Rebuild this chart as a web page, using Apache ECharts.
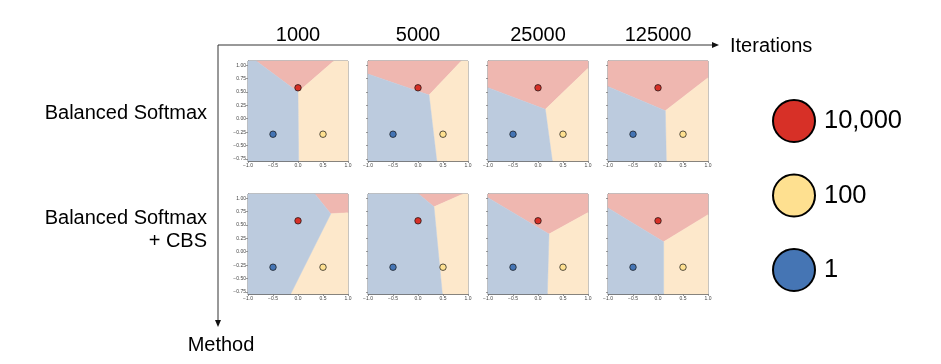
<!DOCTYPE html>
<html>
<head>
<meta charset="utf-8">
<script src="https://cdn.jsdelivr.net/npm/echarts@6/dist/echarts.min.js"></script>
<style>
html,body{margin:0;padding:0;background:#fff;}
#chart{width:941px;height:364px;}
</style>
</head>
<body>
<div id="chart"></div>
<script>
// ---- data ----
const XMIN = -1, XMAX = 1, YMIN = -0.7887, YMAX = 1.0774;
const iterations = ['1000', '5000', '25000', '125000'];
const methods = ['Balanced Softmax', 'Balanced Softmax\n+ CBS'];
const classNames = ['10,000', '100', '1'];
const classPoints = [[0, 0.5774], [0.5, -0.2887], [-0.5, -0.2887]]; // red, yellow, blue
const xTicks = [-1, -0.5, 0, 0.5, 1];
const yTicks = [-0.75, -0.5, -0.25, 0, 0.25, 0.5, 0.75, 1.0];
// decision-boundary geometry per panel (row 1: cols 1-4, row 2: cols 1-4)
const junctions = [[0.0, 0.497], [0.221, 0.443], [0.147, 0.175], [0.147, 0.150],
                   [0.656, 0.709], [0.32, 0.839], [0.22, 0.331], [0.113, 0.186]];
const redBlueEnds = [[-0.834, YMAX], [XMIN, 0.835], [XMIN, 0.580], [XMIN, 0.601],
                     [0.338, YMAX], [0.013, YMAX], [XMIN, 1.008], [XMIN, 0.818]];
const redYellowEnds = [[0.715, YMAX], [0.866, YMAX], [XMAX, 0.941], [XMAX, 0.764],
                       [XMAX, 0.728], [0.9, YMAX], [XMAX, 0.73], [XMAX, 0.692]];
const blueYellowEnds = [[0.013, YMIN], [0.376, YMIN], [0.287, YMIN], [0.167, YMIN],
                        [-0.146, YMIN], [0.487, YMIN], [0.187, YMIN], [0.113, YMIN]];

// ---- styles ----
const FONT = "'Liberation Sans', Arial, sans-serif";
const pointColors = ['#d73027', '#fee090', '#4575b4'];
const regionColors = ['#efb7b0', '#fde8cb', '#bccbde'];
const gridLefts = [248, 368, 488, 608];
const gridTops = [61, 194];
const GW = 100, GH = 100;

function perim(p) {
  const x = p[0], y = p[1], e = 1e-6;
  if (Math.abs(y - YMAX) < e) return (x - XMIN) / (XMAX - XMIN);
  if (Math.abs(x - XMAX) < e) return 1 + (YMAX - y) / (YMAX - YMIN);
  if (Math.abs(y - YMIN) < e) return 2 + (XMAX - x) / (XMAX - XMIN);
  return 3 + (y - YMIN) / (YMAX - YMIN);
}
const corners = [[XMIN, YMAX], [XMAX, YMAX], [XMAX, YMIN], [XMIN, YMIN]];
function region(J, A, B) {
  const ta = perim(A); let tb = perim(B);
  if (tb <= ta) tb += 4;
  const pts = [J, A];
  for (let k = Math.ceil(ta); k < tb; k++) { if (k > ta) pts.push(corners[k % 4]); }
  pts.push(B);
  return pts;
}
const fmt = (v, d) => v.toFixed(d).replace('-', '\u2212');

const grids = [], xAxes = [], yAxes = [], series = [];
for (let i = 0; i < 8; i++) {
  const row = Math.floor(i / 4), col = i % 4;
  grids.push({left: gridLefts[col], top: gridTops[row], width: GW, height: GH,
    show: true, borderColor: '#555', borderWidth: 0.8, backgroundColor: 'transparent'});
  xAxes.push({type: 'value', gridIndex: i, min: XMIN, max: XMAX,
    splitLine: {show: false},
    axisLine: {show: true, onZero: false, lineStyle: {color: '#555', width: 0.8}},
    axisTick: {show: true, length: 2, customValues: xTicks, lineStyle: {color: '#555', width: 0.6}},
    axisLabel: {show: true, customValues: xTicks, fontSize: 5, margin: 2, color: '#444',
      fontFamily: FONT, formatter: v => fmt(v, 1)}});
  yAxes.push({type: 'value', gridIndex: i, min: YMIN, max: YMAX,
    splitLine: {show: false},
    axisLine: {show: true, onZero: false, lineStyle: {color: '#555', width: 0.8}},
    axisTick: {show: true, length: 2, customValues: yTicks, lineStyle: {color: '#555', width: 0.6}},
    axisLabel: {show: col === 0, customValues: yTicks, fontSize: 5, margin: 2, color: '#444',
      fontFamily: FONT, formatter: v => fmt(v, 2)}});
  const J = junctions[i];
  const polys = [
    region(J, redBlueEnds[i], redYellowEnds[i]),
    region(J, redYellowEnds[i], blueYellowEnds[i]),
    region(J, blueYellowEnds[i], redBlueEnds[i])
  ];
  series.push({
    type: 'custom', xAxisIndex: i, yAxisIndex: i, silent: true, z: 1,
    data: polys.map(() => [J[0], J[1]]),
    renderItem: function (params, api) {
      const k = params.dataIndex;
      const pts = polys[k].map(p => api.coord(p));
      return {type: 'polygon', shape: {points: pts},
        style: {fill: regionColors[k], stroke: regionColors[k], lineWidth: 0.4}};
    }
  });
  for (let c = 0; c < 3; c++) {
    series.push({
      type: 'scatter', name: classNames[c], xAxisIndex: i, yAxisIndex: i, z: 3,
      symbol: 'circle', symbolSize: 6.5, data: [classPoints[c]],
      itemStyle: {color: pointColors[c], borderColor: '#111', borderWidth: 0.7, opacity: 1},
      emphasis: {disabled: true}
    });
  }
}

const graphic = [];
// axis arrows
graphic.push({type: 'line', shape: {x1: 218, y1: 45, x2: 713, y2: 45}, style: {stroke: '#333', lineWidth: 1}});
graphic.push({type: 'polygon', shape: {points: [[712, 42], [712, 48], [719, 45]]}, style: {fill: '#111'}});
graphic.push({type: 'line', shape: {x1: 218, y1: 45, x2: 218, y2: 321}, style: {stroke: '#333', lineWidth: 1}});
graphic.push({type: 'polygon', shape: {points: [[215, 320], [221, 320], [218, 327]]}, style: {fill: '#111'}});
iterations.forEach((t, c) => {
  graphic.push({type: 'text', x: gridLefts[c] + GW / 2, y: 35,
    style: {text: t, fontSize: 20, fontFamily: FONT, fill: '#000', textAlign: 'center', textVerticalAlign: 'middle'}});
});
graphic.push({type: 'text', x: 730, y: 46,
  style: {text: 'Iterations', fontSize: 20, fontFamily: FONT, fill: '#000', textAlign: 'left', textVerticalAlign: 'middle'}});
graphic.push({type: 'text', x: 221, y: 345,
  style: {text: 'Method', fontSize: 20, fontFamily: FONT, fill: '#000', textAlign: 'center', textVerticalAlign: 'middle'}});
graphic.push({type: 'text', x: 207, y: 113,
  style: {text: methods[0], fontSize: 20, fontFamily: FONT, fill: '#000', textAlign: 'right', textVerticalAlign: 'middle'}});
graphic.push({type: 'text', x: 207, y: 230,
  style: {text: methods[1], fontSize: 20, lineHeight: 23, fontFamily: FONT, fill: '#000', textAlign: 'right', textVerticalAlign: 'middle'}});

const chart = echarts.init(document.getElementById('chart'), null, {renderer: 'canvas'});
chart.setOption({
  animation: false,
  backgroundColor: '#fff',
  grid: grids, xAxis: xAxes, yAxis: yAxes, series: series,
  legend: {
    data: classNames, orient: 'vertical', left: 772, top: 99, padding: 0,
    itemWidth: 42, itemHeight: 42, itemGap: 30.5, icon: 'circle',
    itemStyle: {borderColor: '#000', borderWidth: 2},
    textStyle: {fontSize: 25.5, fontFamily: FONT, color: '#000', padding: [0, 0, 0, 4]},
    selectedMode: false
  },
  graphic: graphic
});
</script>
</body>
</html>
